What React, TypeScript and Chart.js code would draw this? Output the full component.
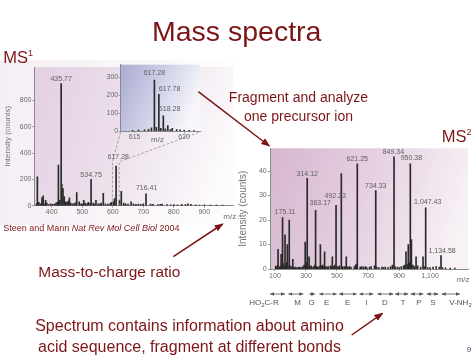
import React, { useEffect, useRef } from "react";
import { Chart, registerables } from "chart.js";

Chart.register(...registerables);

const FONT = "'Liberation Sans', Arial, Helvetica, sans-serif";
Chart.defaults.font.family = FONT;

const RED = "#7c1518";
const AXIS = "#8a8a8a";
const TICK_TXT = "#6a6a6a";
const BAR = "#2a2a2a";

// ---------- MS1 spectrum ----------
const ms1PeakMz = [353, 368, 372, 380, 422, 431, 433, 437, 441, 458, 482, 505, 529, 545, 569, 606, 611, 628, 660, 709];
const ms1PeakInt = [220, 60, 75, 40, 308, 927, 165, 130, 70, 60, 100, 40, 200, 40, 94, 55, 300, 110, 30, 90];
const ms1NoiseMz = [350, 358, 362, 366, 376, 384, 390, 396, 402, 408, 414, 418, 426, 446, 450, 454, 462, 468, 474, 480, 490, 496, 500, 510, 516, 520, 526, 536, 540, 552, 558, 562, 576, 584, 592, 596, 602, 622, 636, 642, 650, 668, 676, 684, 692, 700, 724, 732, 748, 756, 762, 778, 790, 800, 812, 826, 838, 846, 856, 872, 884, 900, 920, 940, 960];
const ms1NoiseInt = [15, 25, 10, 18, 12, 20, 8, 14, 10, 12, 20, 25, 40, 30, 25, 35, 20, 15, 18, 25, 30, 15, 12, 20, 15, 25, 18, 20, 12, 15, 12, 20, 15, 12, 18, 25, 30, 40, 20, 15, 12, 15, 10, 12, 10, 15, 12, 10, 8, 10, 12, 8, 6, 8, 6, 10, 8, 14, 10, 6, 5, 6, 5, 4, 4];
const ms1LabelText = ["435.77", "534.75", "617.28", "716.41"];
const ms1LabelMz = [431, 529, 618, 711];
const ms1LabelAt = [927, 200, 335, 100];
const ms1XTicks = [400, 500, 600, 700, 800, 900];
const ms1YTicks = [0, 200, 400, 600, 800];
const ms1ZoomMz = [599, 621];
const ms1ZoomTop = 333;
const ms1ZoomToMz = [626, 886];
const ms1ZoomToInt = 560;

// ---------- MS1 inset (zoom on 617.28) ----------
const insetMz = [614.8, 615.4, 616.0, 616.4, 616.7, 617.0, 617.2, 617.45, 617.65, 617.9, 618.1, 618.35, 618.6, 618.8, 619.25, 619.6, 620.0, 620.5, 621.0];
const insetInt = [4, 5, 6, 10, 18, 285, 20, 205, 15, 85, 12, 30, 8, 15, 8, 6, 5, 4, 3];
const insetLabelText = ["617.28", "617.78", "618.28"];
const insetLabelMz = [617.0, 617.45, 617.45];
const insetLabelAt = [298, 210, 98];
const insetLabelAlign = ["center", "left", "left"];
const insetXTicks = [615, 620];
const insetYTicks = [0, 100, 200, 300];

// ---------- MS2 spectrum ----------
const ms2PeakMz = [120, 140, 149, 165, 180, 192, 215, 295, 308, 320, 362, 393, 420, 470, 494, 528, 560, 631, 750, 868, 945, 960, 973, 980, 1010, 1055, 1072, 1171];
const ms2PeakInt = [8, 6, 21, 14, 10, 20, 4, 11, 37, 5, 24, 10, 7, 5, 26, 39, 5, 43, 32, 45.8, 7, 10, 43, 12, 5, 5, 25, 5.5];
const ms2NoiseMz = [105, 110, 118, 126, 132, 138, 145, 155, 160, 170, 176, 184, 196, 205, 212, 222, 230, 240, 250, 260, 270, 280, 288, 300, 305, 312, 326, 334, 346, 352, 358, 368, 376, 384, 400, 408, 414, 428, 436, 444, 458, 466, 478, 486, 500, 508, 516, 536, 546, 552, 570, 580, 590, 612, 620, 626, 650, 660, 672, 684, 692, 710, 720, 742, 756, 770, 790, 800, 812, 830, 846, 858, 875, 890, 902, 915, 930, 938, 952, 968, 990, 1000, 1020, 1040, 1062, 1085, 1100, 1120, 1140, 1160, 1180, 1200, 1230, 1260];
const ms2NoiseInt = [1.2, 0.8, 1.6, 1, 0.6, 1.3, 1.8, 2.2, 1, 1.6, 2.6, 1, 1.5, 0.8, 1, 0.6, 0.8, 0.6, 0.7, 0.8, 0.6, 1, 1.6, 1.3, 2.6, 1.6, 1, 1.3, 0.8, 1, 1.6, 1, 0.8, 1, 1.3, 1.6, 0.8, 1, 0.8, 1, 1.3, 0.8, 1, 1.6, 1, 0.8, 1.3, 1, 0.8, 1, 0.8, 1, 0.8, 1, 1.6, 2, 0.8, 1, 0.8, 1, 0.6, 0.8, 1, 1.3, 0.8, 0.6, 0.8, 0.6, 0.8, 0.6, 1, 1.6, 1, 0.8, 0.6, 1, 1.3, 1.6, 2, 2.6, 1.6, 1, 1.3, 0.8, 1, 0.6, 0.6, 0.8, 1, 0.8, 0.6, 0.5, 0.4, 0.4];
const ms2LabelText = ["175.11", "314.12", "363.17", "492.23", "621.25", "734.33", "849.34", "950.38", "1,047.43", "1,134.58"];
const ms2LabelMz = [165, 308, 392, 489, 631, 750, 864, 980, 1085, 1178];
const ms2LabelAt = [21.5, 37, 25, 28, 43, 32, 45.8, 43.5, 25.5, 5.5];
const ms2XTicks = [100, 300, 500, 700, 900, 1100];
const ms2YTicks = [0, 10, 20, 30, 40];

// ---------- peptide sequence under MS2 ----------
const residues = ["HO2C-R", "M", "G", "E", "E", "I", "D", "T", "P", "S", "V-NH2"];

// layout constants (pixels)
const residueX = [264, 297.7, 311.7, 326.7, 347.7, 366.7, 385, 403, 419, 433, 460.5];
const bondSegments = [
  [270, 285], [288.3, 303.3], [309.3, 315], [319.3, 336.7], [339, 356.7], [359.3, 373.3],
  [377.3, 393.3], [395, 408.3], [410.7, 423.3], [426.7, 438.3], [441.7, 460],
];

type Cfg = {
  series: { mz: number[]; int: number[] }[];
  xMin: number; xMax: number; yMin: number; yMax: number;
  xTicks: number[]; yTicks: number[];
  yAxisWidth: number; xAxisHeight: number;
  padding: { left: number; top: number; right: number; bottom: number };
  yTitle?: string; yTitleSize?: number; yTitlePad?: number;
  tickSize: number; tickLen: number; xTickPad: number; yTickPad: number;
  areaStops: [number, string][]; canvasStops?: [number, string][];
  labels: { text: string[]; mz: number[]; at: number[]; align?: string[] };
  labelSize: number;
  extraDraw?: (chart: any) => void;
};

function buildChart(canvas: HTMLCanvasElement, c: Cfg): Chart {
  const bgPlugin = {
    id: "areaBg",
    beforeDraw(chart: any) {
      const { ctx, chartArea: a, width, height } = chart;
      ctx.save();
      if (c.canvasStops) {
        const g = ctx.createLinearGradient(0, 0, width, 0);
        c.canvasStops.forEach((s) => g.addColorStop(s[0], s[1]));
        ctx.fillStyle = g;
        ctx.fillRect(0, 0, width, height);
      }
      const g2 = ctx.createLinearGradient(a.left, a.top, a.right, a.top + (a.bottom - a.top) * 0.5);
      c.areaStops.forEach((s) => g2.addColorStop(s[0], s[1]));
      ctx.fillStyle = g2;
      ctx.fillRect(a.left, a.top, a.right - a.left, a.bottom - a.top);
      ctx.restore();
    },
  };
  const labelPlugin = {
    id: "peakLabels",
    afterDatasetsDraw(chart: any) {
      const { ctx, scales } = chart;
      if (c.extraDraw) c.extraDraw(chart);
      ctx.save();
      ctx.font = `${c.labelSize}px ${FONT}`;
      ctx.fillStyle = "#5e5e5e";
      ctx.textBaseline = "bottom";
      c.labels.text.forEach((t, i) => {
        ctx.textAlign = (c.labels.align ? c.labels.align[i] : "center") as CanvasTextAlign;
        ctx.fillText(t, scales.x.getPixelForValue(c.labels.mz[i]), scales.y.getPixelForValue(c.labels.at[i]) - 1);
      });
      ctx.restore();
    },
  };
  const axisCommon = (ticks: number[], pad: number) => ({
    type: "linear" as const,
    offset: false,
    afterBuildTicks: (s: any) => {
      s.ticks = ticks.map((v) => ({ value: v }));
    },
    grid: { display: true, drawOnChartArea: false, drawTicks: true, tickLength: c.tickLen, color: AXIS, offset: false, lineWidth: 0.8 },
    border: { display: true, color: AXIS, width: 1 },
    ticks: { font: { size: c.tickSize, family: FONT }, color: TICK_TXT, padding: pad, maxRotation: 0, autoSkip: false },
  });
  return new Chart(canvas, {
    type: "bar",
    data: {
      datasets: c.series.map((s) => ({
        data: s.mz.map((m, i) => ({ x: m, y: s.int[i] })),
        backgroundColor: BAR,
        borderWidth: 0,
        barThickness: 1,
        grouped: false,
      })),
    } as any,
    options: {
      animation: false,
      responsive: false,
      maintainAspectRatio: false,
      locale: "en-US",
      devicePixelRatio: 1,
      layout: { padding: c.padding },
      plugins: { legend: { display: false }, tooltip: { enabled: false }, title: { display: false } },
      scales: {
        x: {
          ...axisCommon(c.xTicks, c.xTickPad),
          min: c.xMin,
          max: c.xMax,
          afterFit: (s: any) => {
            s.height = c.xAxisHeight;
          },
        },
        y: {
          ...axisCommon(c.yTicks, c.yTickPad),
          min: c.yMin,
          max: c.yMax,
          afterFit: (s: any) => {
            s.width = c.yAxisWidth;
          },
          title: c.yTitle
            ? {
                display: true,
                text: c.yTitle,
                color: "#777",
                font: { size: c.yTitleSize, family: FONT },
                padding: { top: c.yTitlePad, bottom: 0 },
              }
            : { display: false },
        },
      },
    } as any,
    plugins: [bgPlugin, labelPlugin],
  });
}

function T(props: {
  x: number; base: number; size: number; align?: "left" | "center"; color?: string;
  children: React.ReactNode;
}) {
  const { x, base, size, align = "left", color = RED, children } = props;
  const top = base - 0.8465 * size;
  const common: React.CSSProperties = {
    position: "absolute",
    top,
    fontSize: size,
    lineHeight: `${size}px`,
    fontFamily: FONT,
    color,
    whiteSpace: "nowrap",
  };
  if (align === "center")
    return <div style={{ ...common, left: x - 250, width: 500, textAlign: "center" }}>{children}</div>;
  return <div style={{ ...common, left: x }}>{children}</div>;
}

function Residue({ name }: { name: string }) {
  if (name.includes("2")) {
    const [a, b] = name.split("2");
    return (
      <>
        {a}
        <span style={{ fontSize: 6, position: "relative", top: 2 }}>2</span>
        {b}
      </>
    );
  }
  return <>{name}</>;
}

export default function App() {
  const ms1Ref = useRef<HTMLCanvasElement>(null);
  const insetRef = useRef<HTMLCanvasElement>(null);
  const ms2Ref = useRef<HTMLCanvasElement>(null);

  useEffect(() => {
    const charts: Chart[] = [];
    charts.push(
      buildChart(ms1Ref.current!, {
        series: [
          { mz: ms1NoiseMz, int: ms1NoiseInt },
          { mz: ms1PeakMz, int: ms1PeakInt },
        ],
        xMin: 342, xMax: 994, yMin: 0, yMax: 1053,
        xTicks: ms1XTicks, yTicks: ms1YTicks,
        yAxisWidth: 34, xAxisHeight: 19.3,
        padding: { left: 0, top: 7, right: 7, bottom: 0 },
        yTitle: "Intensity (counts)", yTitleSize: 8, yTitlePad: 2.5,
        tickSize: 7, tickLen: 2, xTickPad: 0.5, yTickPad: 0.5,
        canvasStops: [[0, "#f5eef4"], [0.7, "#fbf8fb"], [1, "#ffffff"]],
        areaStops: [[0, "#e3d0e2"], [0.45, "#ebdeea"], [1, "#fcfafc"]],
        labels: { text: ms1LabelText, mz: ms1LabelMz, at: ms1LabelAt },
        labelSize: 7,
        extraDraw: (chart: any) => {
          const { ctx, scales } = chart;
          const x = scales.x, y = scales.y;
          ctx.save();
          ctx.strokeStyle = "#8c8c8c";
          ctx.lineWidth = 0.8;
          ctx.setLineDash([2.5, 2]);
          ms1ZoomMz.forEach((m, i) => {
            const px = x.getPixelForValue(m);
            ctx.beginPath();
            ctx.moveTo(px, y.getPixelForValue(0));
            ctx.lineTo(px, y.getPixelForValue(ms1ZoomTop));
            ctx.lineTo(x.getPixelForValue(ms1ZoomToMz[i]), y.getPixelForValue(ms1ZoomToInt));
            ctx.stroke();
          });
          ctx.restore();
        },
      })
    );
    charts.push(
      buildChart(insetRef.current!, {
        series: [{ mz: insetMz, int: insetInt }],
        xMin: 613.6, xMax: 621.6, yMin: 0, yMax: 371,
        xTicks: insetXTicks, yTicks: insetYTicks,
        yAxisWidth: 20.7, xAxisHeight: 17,
        padding: { left: 0, top: 3, right: 4, bottom: 0 },
        tickSize: 7, tickLen: 2, xTickPad: 0, yTickPad: 0.5,
        areaStops: [[0, "#a9abd1"], [0.5, "#cfd0e7"], [1, "#f7f7fb"]],
        labels: { text: insetLabelText, mz: insetLabelMz, at: insetLabelAt, align: insetLabelAlign },
        labelSize: 7,
      })
    );
    charts.push(
      buildChart(ms2Ref.current!, {
        series: [
          { mz: ms2NoiseMz, int: ms2NoiseInt },
          { mz: ms2PeakMz, int: ms2PeakInt },
        ],
        xMin: 68, xMax: 1345, yMin: 0, yMax: 49.3,
        xTicks: ms2XTicks, yTicks: ms2YTicks,
        yAxisWidth: 38, xAxisHeight: 21,
        padding: { left: 0, top: 8.3, right: 6, bottom: 0 },
        yTitle: "Intensity (counts)", yTitleSize: 10, yTitlePad: 5,
        tickSize: 7, tickLen: 2, xTickPad: 0.5, yTickPad: 1.3,
        areaStops: [[0, "#d6b6cf"], [0.5, "#e5d0e1"], [1, "#f8f2f6"]],
        labels: { text: ms2LabelText, mz: ms2LabelMz, at: ms2LabelAt },
        labelSize: 7,
      })
    );
    return () => charts.forEach((ch) => ch.destroy());
  }, []);

  const box = (left: number, top: number, w: number, h: number, ref: any) => (
    <div style={{ position: "absolute", left, top, width: w, height: h }}>
      <canvas ref={ref} width={w} height={h} style={{ display: "block", width: w, height: h }} />
    </div>
  );

  return (
    <div
      style={{
        position: "absolute",
        left: 0,
        top: 0,
        width: 474,
        height: 355,
        overflow: "hidden",
        background: "#ffffff",
        fontFamily: FONT,
      }}
    >
      {box(0, 60, 240, 165, ms1Ref)}
      {box(100, 60, 104, 88, insetRef)}
      {box(232, 140, 242, 150, ms2Ref)}

      <svg width={474} height={355} style={{ position: "absolute", left: 0, top: 0, pointerEvents: "none" }}>
        <defs>
          <marker id="redHead" markerUnits="userSpaceOnUse" markerWidth="9" markerHeight="8" refX="8" refY="4" orient="auto">
            <path d="M0,0.5 L9,4 L0,7.5 z" fill={RED} />
          </marker>
          <marker id="grayHead" markerUnits="userSpaceOnUse" markerWidth="4" markerHeight="4" refX="4" refY="2" orient="auto-start-reverse">
            <path d="M0,0.3 L4,2 L0,3.7 z" fill="#555" />
          </marker>
        </defs>
        <line x1={198.3} y1={91.7} x2={269.3} y2={146} stroke={RED} strokeWidth={1.5} markerEnd="url(#redHead)" />
        <line x1={173.3} y1={256.7} x2={222.7} y2={224} stroke={RED} strokeWidth={1.5} markerEnd="url(#redHead)" />
        <line x1={351.7} y1={335} x2={382.5} y2={313.3} stroke={RED} strokeWidth={1.5} markerEnd="url(#redHead)" />
        {bondSegments.map((s, i) => (
          <line
            key={i}
            x1={s[0]}
            y1={294}
            x2={s[1]}
            y2={294}
            stroke="#555"
            strokeWidth={0.8}
            markerStart="url(#grayHead)"
            markerEnd="url(#grayHead)"
          />
        ))}
      </svg>

      <T x={236.7} base={40.7} size={28.5} align="center">Mass spectra</T>
      <T x={3.3} base={62.7} size={16.5}>
        MS<span style={{ fontSize: 9, position: "relative", top: -7 }}>1</span>
      </T>
      <T x={441.7} base={141.7} size={16.5}>
        MS<span style={{ fontSize: 9, position: "relative", top: -7 }}>2</span>
      </T>
      <T x={298.5} base={101.7} size={14} align="center">Fragment and analyze</T>
      <T x={298.5} base={121.2} size={14} align="center">one precursor ion</T>
      <T x={3.3} base={231.7} size={9}>
        Steen and Mann <i>Nat Rev Mol Cell Biol</i> 2004
      </T>
      <T x={38.3} base={277.3} size={15.5}>Mass-to-charge ratio</T>
      <T x={189.5} base={331.7} size={16} align="center">Spectrum contains information about amino</T>
      <T x={189.5} base={352.3} size={16} align="center">acid sequence, fragment at different bonds</T>
      <T x={469} base={353} size={8} align="center" color="#3d4f7c">9</T>

      <T x={223.3} base={219.5} size={8} color="#666">m/z</T>
      <T x={157.5} base={143} size={8} align="center" color="#666">m/z</T>
      <T x={456.7} base={283} size={8} color="#666">m/z</T>

      {residues.map((r, i) => (
        <T key={i} x={residueX[i]} base={305.5} size={8} align="center" color="#555">
          <Residue name={r} />
        </T>
      ))}
    </div>
  );
}
